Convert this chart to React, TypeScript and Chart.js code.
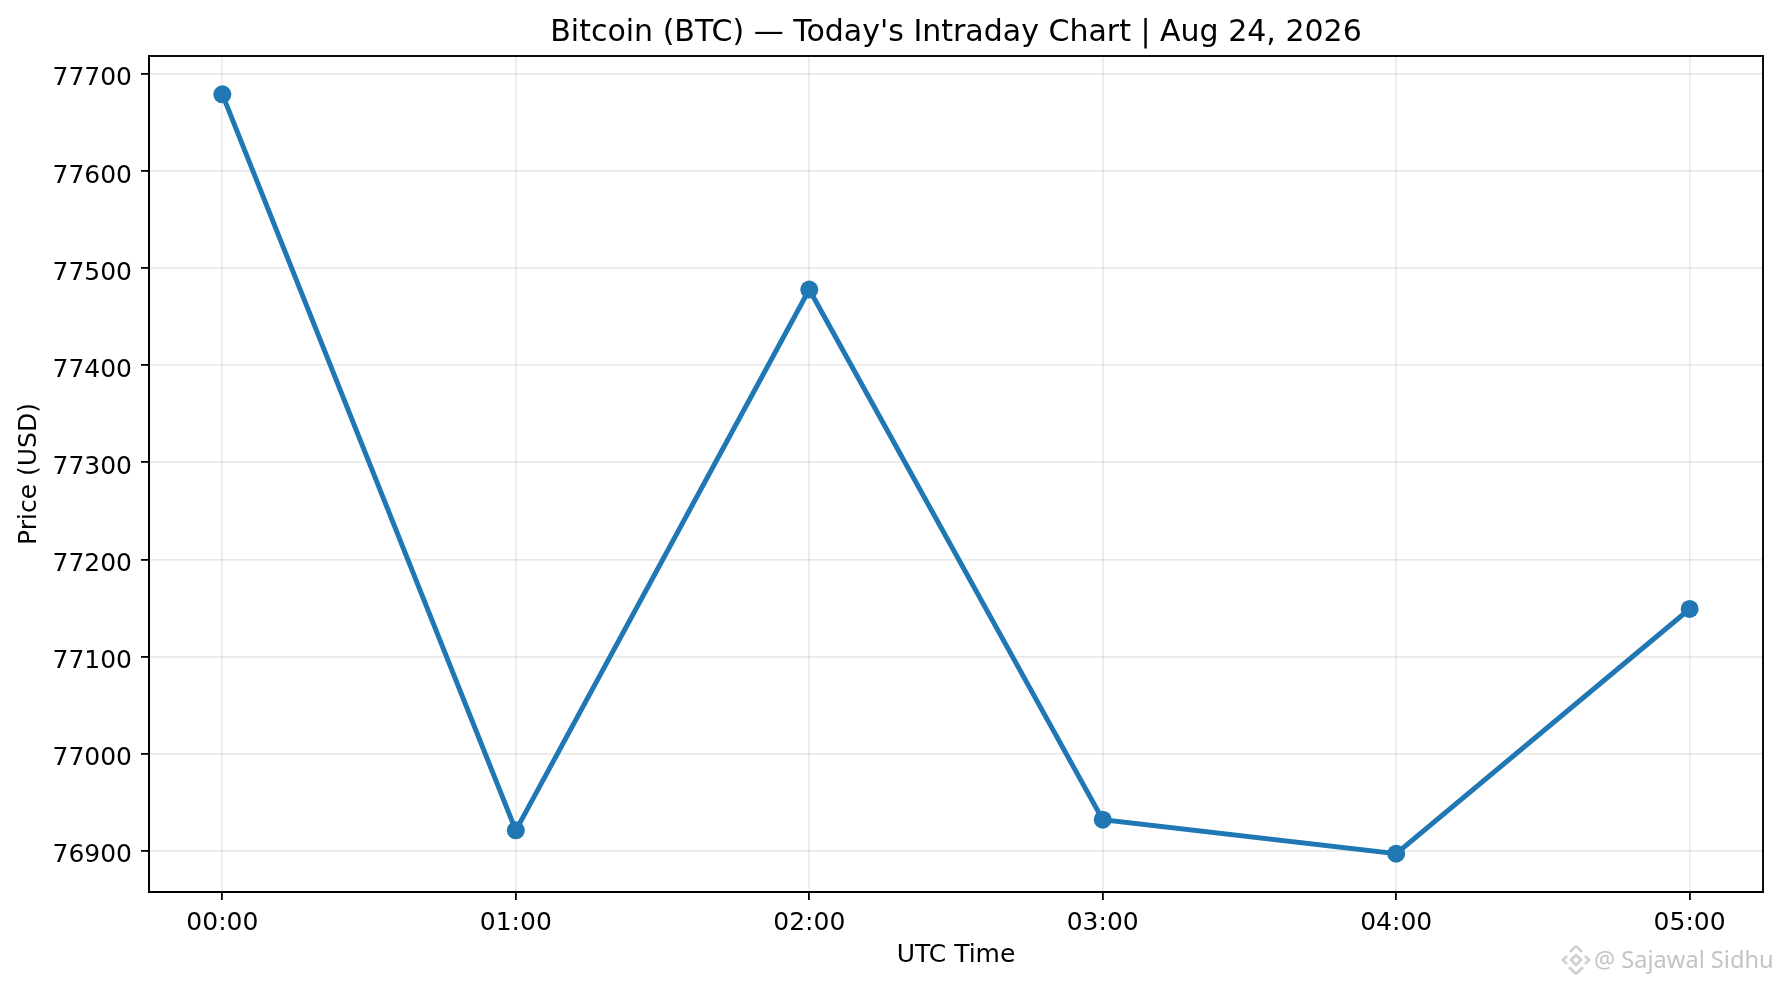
import React, { useEffect, useRef } from "react";
import { Chart, registerables } from "chart.js";

Chart.register(...registerables);

const hours = ["00:00", "01:00", "02:00", "03:00", "04:00", "05:00"];
const prices = [77679, 76921, 77478, 76932, 76897, 77149];
const yTicks = [76900, 77000, 77100, 77200, 77300, 77400, 77500, 77600, 77700];
const titleText = "Bitcoin (BTC) — Today's Intraday Chart | Aug 24, 2026";
const xTitle = "UTC Time";
const yTitle = "Price (USD)";
const watermark = "@ Sajawal Sidhu";

const FONT = "'DejaVu Sans', sans-serif";

const framePlugin = {
  id: "frame",
  afterDatasetsDraw(chart: any) {
    const { ctx, chartArea: a } = chart;
    ctx.save();
    ctx.strokeStyle = "#000";
    ctx.lineWidth = 1.9;
    ctx.strokeRect(a.left, a.top, a.right - a.left, a.bottom - a.top);
    ctx.restore();
  },
};

export default function App() {
  const ref = useRef<HTMLCanvasElement>(null);
  useEffect(() => {
    const chart = new Chart(ref.current as HTMLCanvasElement, {
      type: "line",
      data: {
        datasets: [
          {
            data: prices.map((y, x) => ({ x, y })),
            borderColor: "#1f77b4",
            backgroundColor: "#1f77b4",
            borderWidth: 5,
            pointRadius: 9,
            pointBorderWidth: 0,
            tension: 0,
            clip: false,
          },
        ],
      },
      options: {
        responsive: false,
        animation: false,
        devicePixelRatio: 1,
        layout: { padding: { right: 18 } },
        plugins: {
          legend: { display: false },
          tooltip: { enabled: false },
          title: {
            display: true,
            text: titleText,
            fullSize: false,
            color: "#000",
            font: { family: FONT, size: 30, weight: "normal", lineHeight: 1.2 },
            padding: { top: 15, bottom: 5 },
          },
        },
        scales: {
          x: {
            type: "linear",
            min: -0.25,
            max: 5.25,
            afterBuildTicks: (s: any) => {
              s.ticks = hours.map((_, i) => ({ value: i }));
            },
            afterFit: (s: any) => {
              s.height = 93;
            },
            grid: { color: "rgba(0,0,0,0.075)", lineWidth: 1.8, tickColor: "#000", tickLength: 8, tickWidth: 1.8 },
            border: { color: "#000", width: 1.9 },
            ticks: {
              color: "#000",
              autoSkip: false,
              maxRotation: 0,
              padding: 8,
              font: { family: FONT, size: 25 },
              callback: (v: any) => hours[v as number] ?? "",
            },
            title: {
              display: true,
              text: xTitle,
              color: "#000",
              font: { family: FONT, size: 25 },
              padding: { top: 8, bottom: 15 },
            },
          },
          y: {
            type: "linear",
            min: 76857.5,
            max: 77718.5,
            afterBuildTicks: (s: any) => {
              s.ticks = yTicks.map((value) => ({ value }));
            },
            afterFit: (s: any) => {
              s.width = 149;
              const orig = s.getLabelItems.bind(s);
              s.getLabelItems = (area: any) =>
                orig(area).map((item: any) => ({ ...item, textOffset: item.textOffset + 2.5 }));
            },
            grid: { color: "rgba(0,0,0,0.085)", lineWidth: 1.8, tickColor: "#000", tickLength: 8, tickWidth: 1.8 },
            border: { color: "#000", width: 1.9 },
            ticks: {
              color: "#000",
              padding: 9,
              font: { family: FONT, size: 25 },
              callback: (v: any) => String(v),
            },
            title: {
              display: true,
              text: yTitle,
              color: "#000",
              font: { family: FONT, size: 25 },
              padding: { top: 14.5, bottom: 0 },
            },
          },
        },
      } as any,
      plugins: [framePlugin],
    });
    return () => chart.destroy();
  }, []);

  return (
    <div style={{ position: "fixed", left: 0, top: 0, width: 1781, height: 985, background: "#fff", overflow: "hidden" }}>
      <canvas ref={ref} width={1781} height={985} style={{ display: "block" }} />
      <svg width="32" height="32" viewBox="-16 -16 32 32" style={{ position: "absolute", left: 1560, top: 944 }}>
        <g fill="none" stroke="#cfcfcf" strokeWidth="2.6">
          <path d="M0 -14 L6 -8 M0 -14 L-6 -8" />
          <path d="M0 14 L7 7 M0 14 L-7 7" />
          <path d="M-13 0 L-9 -4 L-13 0 L-9 4 Z" />
          <path d="M13 0 L9 -4 L13 0 L9 4 Z" />
          <path d="M0 -5 L5 0 L0 5 L-5 0 Z" />
        </g>
      </svg>
      <div
        style={{
          position: "absolute",
          left: 1594,
          top: 944,
          fontFamily: "'Noto Sans', sans-serif",
          fontSize: 23.6,
          lineHeight: "30px",
          color: "#c4c4c4",
          whiteSpace: "nowrap",
          textShadow: "0 0 2px #fff",
        }}
      >
        {watermark}
      </div>
    </div>
  );
}
